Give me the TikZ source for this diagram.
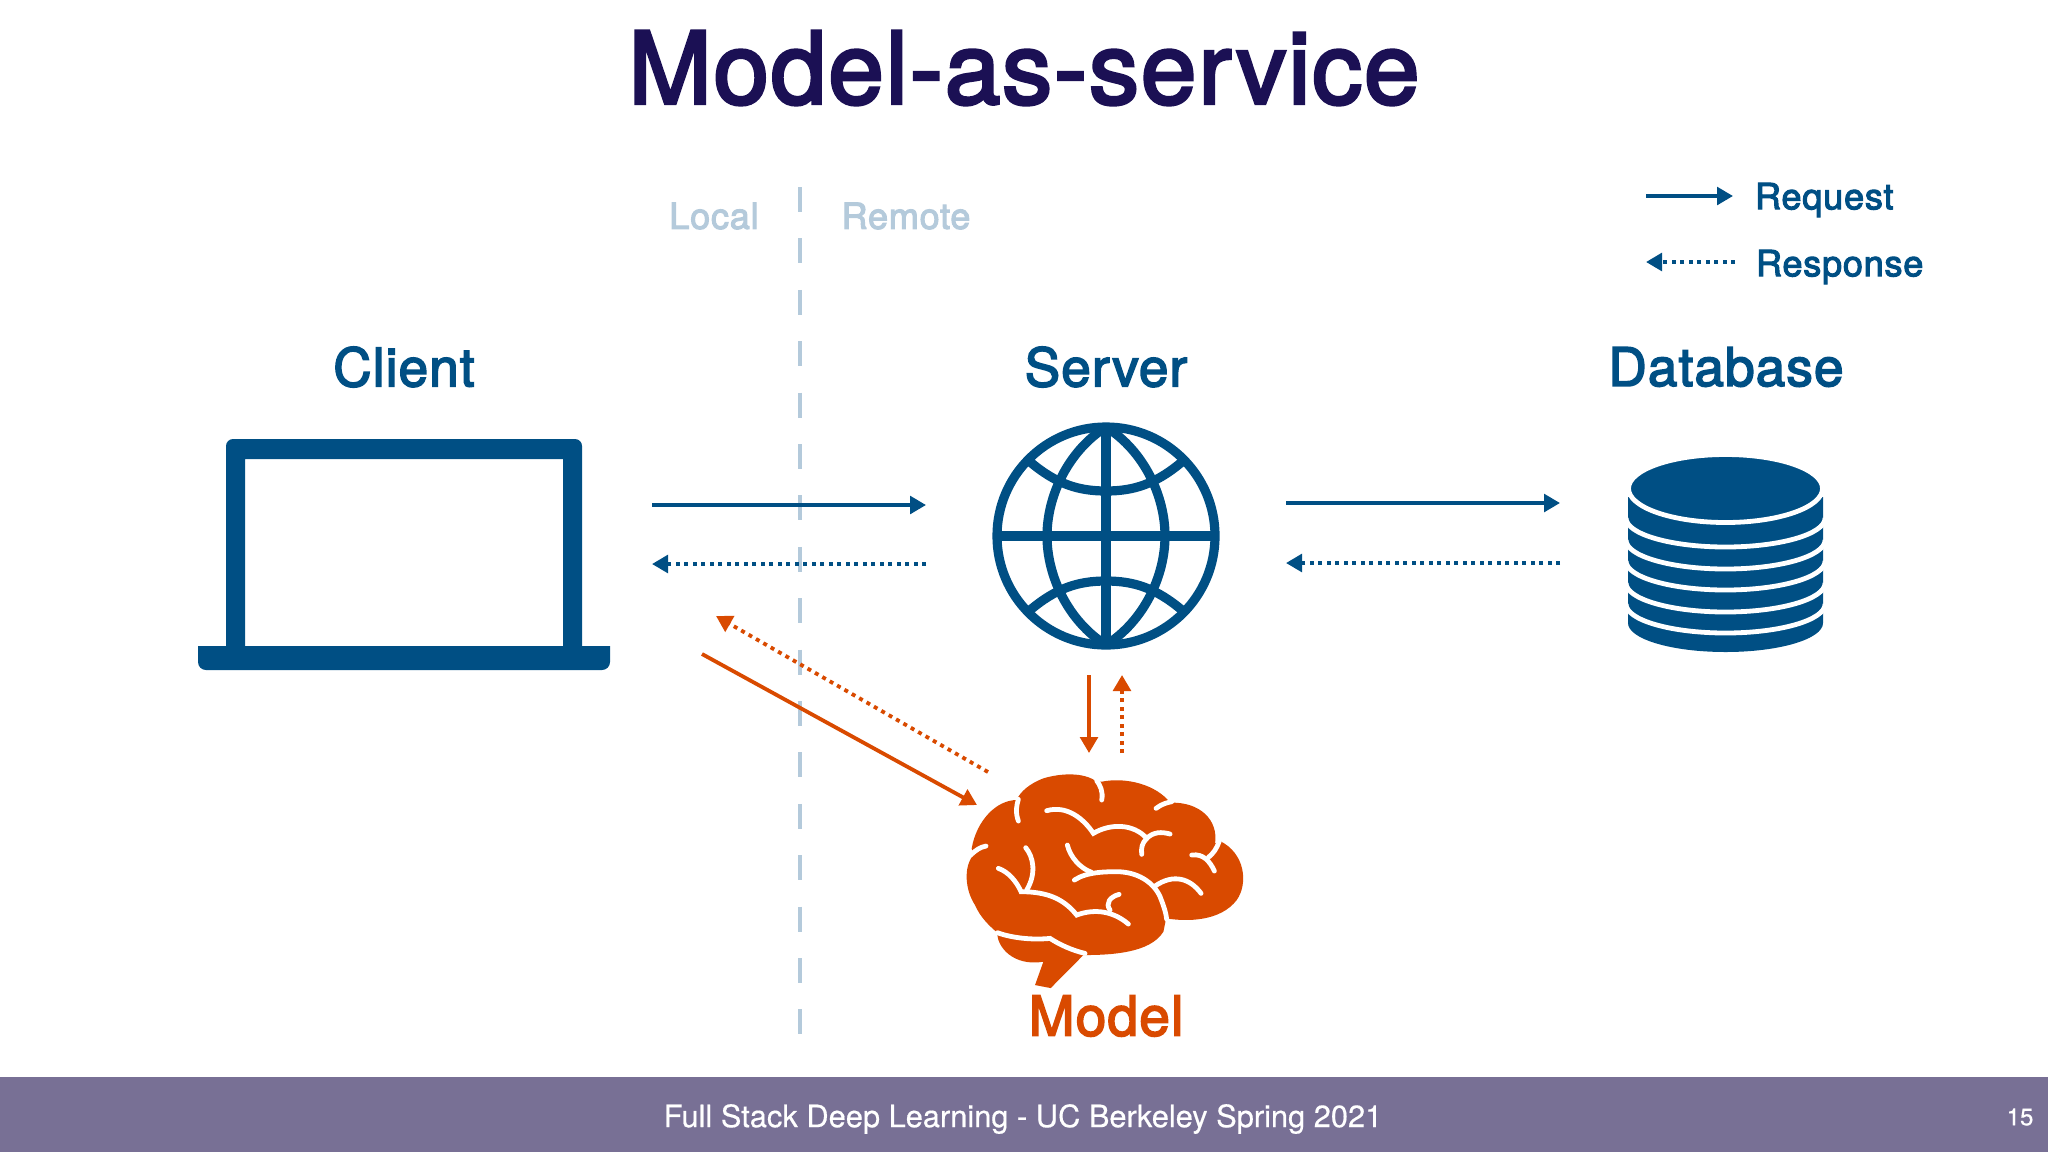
\documentclass[tikz,border=0pt]{standalone}
\usepackage{fontspec}
\setmainfont{TeX Gyre Heros}[FakeBold=0.4]
\newfontfamily\medfont{TeX Gyre Heros}[FakeBold=3,LetterSpace=2.2]
\newfontfamily\titlefont{TeX Gyre Heros}[FakeBold=3,LetterSpace=1.8]
\usetikzlibrary{arrows.meta, calc}

\definecolor{titlenavy}{RGB}{27,16,84}
\definecolor{fsdlblue}{RGB}{0,79,132}
\definecolor{fsdlorange}{RGB}{217,74,0}
\definecolor{fsdlpale}{RGB}{180,202,219}
\definecolor{barpurple}{RGB}{120,112,149}

\tikzset{
	request/.style={-{Triangle[length=8pt,width=8.8pt]},line width=1.9pt},
	response/.style={-{Triangle[length=8pt,width=8.8pt]},line width=1.9pt,dash pattern=on 2pt off 2.25pt},
	heading/.style={font=\medfont\fontsize{26.5}{30}\selectfont,text=fsdlblue},
	legendtext/.style={font=\medfont\fontsize{18}{20}\selectfont,text=fsdlblue,anchor=west},
	sidetext/.style={font=\medfont\fontsize{18}{22}\selectfont,text=fsdlpale},
	slit/.style={white,line width=2.4pt,line cap=round},
	dbgap/.style={white,line width=2.4pt},
}

\begin{document}
\begin{tikzpicture}[x=0.5pt,y=-0.5pt]
		\useasboundingbox (0,0) rectangle (2048,1152);
		\fill [barpurple] (0,1077) rectangle (2048,1152);

		\node [font=\titlefont\fontsize{50}{56}\selectfont,text=titlenavy] (title) at (1024,68) {Model-as-service};
		\node [font=\fontsize{15.4}{18}\selectfont,text=white] (footer) at (1023,1119) {Full Stack Deep Learning - UC Berkeley Spring 2021};
		\node [font=\fontsize{12}{14}\selectfont,text=white] (page) at (2020,1117) {15};

		% local / remote split
		\coordinate (s1) at (800,187);
		\coordinate (s2) at (800,1034);
		\draw [fsdlpale,line width=2pt,dash pattern=on 12.5pt off 13.2pt] (s1) -- (s2);
		\node [sidetext] (local) at (714,216) {Local};
		\node [sidetext] (remote) at (906,216) {Remote};

		% legend
		\coordinate (l1) at (1646,196);
		\coordinate (l2) at (1733,196);
		\coordinate (l3) at (1735,262);
		\coordinate (l4) at (1646,262);
		\draw [request,fsdlblue] (l1) -- (l2);
		\draw [response,fsdlblue] (l3) -- (l4);
		\node [legendtext] (req) at (1748,200) {Request};
		\node [legendtext] (res) at (1749,267) {Response};

		\node [heading] (client) at (404,367) {Client};
		\node [heading] (server) at (1106,367) {Server};
		\node [heading] (database) at (1726,367) {Database};
		\node [font=\medfont\fontsize{27.5}{30}\selectfont,text=fsdlorange] (model) at (1106,1016) {Model};

		% laptop
		\fill [fsdlblue,even odd rule] [rounded corners=3.5pt] (226,655) -- (226,439) -- (582,439) -- (582,655) [sharp corners] -- cycle (245,459) rectangle (563,646);
		\fill [fsdlblue] (198,646) -- (610,646) [rounded corners=4pt] -- (610,670) -- (198,670) [sharp corners] -- cycle;

		% globe
		\begin{scope}[shift={(1106,536)},fsdlblue,line width=4.6pt]
			\draw (0,0) circle [radius=109];
			\draw (0,-109) .. controls (-38,-85) and (-59,-40) .. (-59,0) .. controls (-59,40) and (-38,85) .. (0,109);
			\draw (0,-109) .. controls (38,-85) and (59,-40) .. (59,0) .. controls (59,40) and (38,85) .. (0,109);
			\draw (-109,0) -- (109,0);
			\draw (0,-109) -- (0,109);
			\draw (-77,-75) .. controls (-50,-52) and (-28,-45) .. (0,-45) .. controls (28,-45) and (50,-52) .. (77,-75);
			\draw (-77,75) .. controls (-50,52) and (-28,45) .. (0,45) .. controls (28,45) and (50,52) .. (77,75);
		\end{scope}

		% database
		\fill [fsdlblue] (1628,497) -- (1628,623) arc [start angle=180,end angle=0,x radius=97.5,y radius=29] -- (1823,497) -- cycle;
		\draw [dbgap,fill=fsdlblue] (1725.5,488.5) ellipse [x radius=97,y radius=34];
		\draw [dbgap] (1626,518) arc [start angle=180,end angle=0,x radius=99.5,y radius=29];
		\draw [dbgap] (1626,540) arc [start angle=180,end angle=0,x radius=99.5,y radius=29];
		\draw [dbgap] (1626,561) arc [start angle=180,end angle=0,x radius=99.5,y radius=29];
		\draw [dbgap] (1626,583) arc [start angle=180,end angle=0,x radius=99.5,y radius=29];
		\draw [dbgap] (1626,604) arc [start angle=180,end angle=0,x radius=99.5,y radius=29];

		% brain
		\begin{scope}[shift={(920,740)},x=0.1667pt,y=-0.1667pt]
			\fill [fsdlorange] (345,735) -- (392,744) -- (490,645)
				.. controls (570,645) and (690,640) .. (730,575) -- (738,535)
				.. controls (800,545) and (900,545) .. (950,480)
				.. controls (985,430) and (975,340) .. (900,303) -- (885,310)
				.. controls (895,240) and (840,185) .. (750,188)
				.. controls (710,135) and (620,110) .. (545,125) -- (530,125)
				.. controls (490,95) and (420,100) .. (370,115)
				.. controls (330,130) and (300,155) .. (290,180)
				.. controls (230,180) and (170,240) .. (155,325) -- (160,345)
				.. controls (130,380) and (135,450) .. (165,495)
				.. controls (180,530) and (205,555) .. (232,578)
				.. controls (230,620) and (280,680) .. (370,665) -- cycle;
			\draw [slit] (545,180) .. controls (550,155) and (540,135) .. (530,122);
			\draw [slit] (295,243) .. controls (285,215) and (290,195) .. (295,178);
			\draw [slit] (152,345) .. controls (170,328) and (180,322) .. (198,318);
			\draw [slit] (708,205) .. controls (725,192) and (740,188) .. (755,185);
			\draw [slit] (380,212) .. controls (440,195) and (490,235) .. (520,280)
				.. controls (570,250) and (640,250) .. (680,295);
			\draw [slit] (680,295) .. controls (700,275) and (725,275) .. (750,282);
			\draw [slit] (680,295) .. controls (665,310) and (663,325) .. (665,343);
			\draw [slit] (442,315) .. controls (450,350) and (480,385) .. (515,397);
			\draw [slit] (463,420) .. controls (500,395) and (560,395) .. (590,395)
				.. controls (650,395) and (700,425) .. (720,470)
				.. controls (732,500) and (738,520) .. (740,538);
			\draw [slit] (705,438) .. controls (760,400) and (810,415) .. (843,460);
			\draw [slit] (815,345) .. controls (850,340) and (870,365) .. (883,393);
			\draw [slit] (865,352) .. controls (880,340) and (890,325) .. (897,305);
			\draw [slit] (317,323) .. controls (340,350) and (350,400) .. (320,450);
			\draw [slit] (235,385) .. controls (265,395) and (290,425) .. (303,455)
				.. controls (380,455) and (430,475) .. (470,525)
				.. controls (510,510) and (570,505) .. (625,552);
			\draw [slit] (570,510) .. controls (555,490) and (570,470) .. (597,463);
			\draw [slit] (232,578) .. controls (280,595) and (340,600) .. (390,595)
				.. controls (420,615) and (460,632) .. (495,640);
		\end{scope}

		% client - server
		\coordinate (c1) at (652,505);
		\coordinate (c2) at (926,505);
		\coordinate (c3) at (926,564);
		\coordinate (c4) at (652,564);
		\draw [request,fsdlblue] (c1) -- (c2);
		\draw [response,fsdlblue] (c3) -- (c4);

		% server - database
		\coordinate (d1) at (1286,503);
		\coordinate (d2) at (1560,503);
		\coordinate (d3) at (1560,563);
		\coordinate (d4) at (1286,563);
		\draw [request,fsdlblue] (d1) -- (d2);
		\draw [response,fsdlblue] (d3) -- (d4);

		% client - model
		\coordinate (m1) at (702,654);
		\coordinate (m2) at (977,805);
		\coordinate (m3) at (988,772);
		\coordinate (m4) at (716,616);
		\draw [request,fsdlorange] (m1) -- (m2);
		\draw [response,fsdlorange] (m3) -- (m4);

		% server - model
		\coordinate (v1) at (1089,675);
		\coordinate (v2) at (1089,753);
		\coordinate (v3) at (1122,753);
		\coordinate (v4) at (1122,675);
		\draw [request,fsdlorange] (v1) -- (v2);
		\draw [response,fsdlorange] (v3) -- (v4);
	\end{tikzpicture}
\end{document}
